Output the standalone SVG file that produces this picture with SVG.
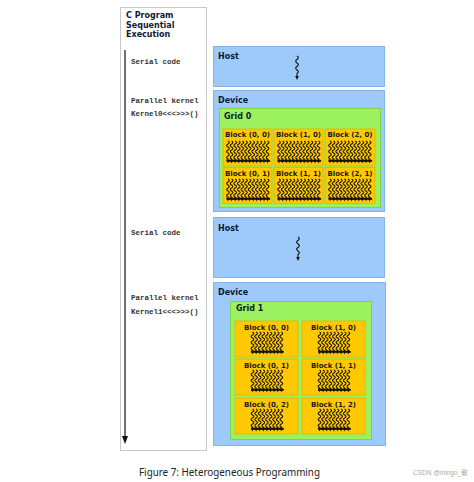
<svg xmlns="http://www.w3.org/2000/svg" xmlns:xlink="http://www.w3.org/1999/xlink" width="474" height="482" viewBox="0 0 474 482">
<style>
.panel{fill:#ffffff;stroke:#c8c8c8;stroke-width:1}
.blue{fill:#9dc9fb;stroke:#86b3e6;stroke-width:1}
.green{fill:#9cf25e;stroke:#7fd24a;stroke-width:1}
.blk{fill:#ffc800;stroke:#e6b000;stroke-width:0.8}
.t{font-family:"DejaVu Sans","Liberation Sans",sans-serif;font-weight:bold;fill:#111a33}
.hd{font-size:8px}
.bl{font-size:7px;text-anchor:middle;fill:#1a1a1a}
.mono{font-family:"Liberation Mono","DejaVu Sans Mono",monospace;font-size:7.5px;font-weight:bold;fill:#333}
.thr{fill:none;stroke:#111;stroke-width:1.1}
.cap{font-family:"Noto Sans","Liberation Sans",sans-serif;font-size:10.5px;fill:#222}
.wm{font-family:"Liberation Sans","Noto Sans CJK SC",sans-serif;font-size:6.5px;fill:#aaa}
</style>
<defs>
<marker id="ah" markerWidth="8" markerHeight="8" refX="4" refY="4" orient="auto" markerUnits="userSpaceOnUse">
<path d="M0,1 L8,4 L0,7 Z" fill="#111"/>
</marker>
<g id="th">
<path class="thr" d="M0,0 c1.8,1 1.8,2 0,3 c-1.8,1 -1.8,2 0,3 c1.8,1 1.8,2 0,3 c-1.8,1 -1.8,2 0,3 c1.8,1 1.8,2 0,3 c-1.8,1 -1.8,2 0,3 L0,19"/>
<path d="M-1.7,18.5 L1.7,18.5 L0,22.5 Z" fill="#111"/>
</g>
<g id="row12">
<use xlink:href="#th" x="0"/><use xlink:href="#th" x="3.6"/><use xlink:href="#th" x="7.2"/><use xlink:href="#th" x="10.8"/><use xlink:href="#th" x="14.4"/><use xlink:href="#th" x="18"/><use xlink:href="#th" x="21.6"/><use xlink:href="#th" x="25.2"/><use xlink:href="#th" x="28.8"/><use xlink:href="#th" x="32.4"/><use xlink:href="#th" x="36"/><use xlink:href="#th" x="39.6"/>
<rect x="-1.5" y="19" width="43.6" height="1.8" fill="#111"/>
</g>
<g id="row9">
<use xlink:href="#th" x="0"/><use xlink:href="#th" x="3.6"/><use xlink:href="#th" x="7.2"/><use xlink:href="#th" x="10.8"/><use xlink:href="#th" x="14.4"/><use xlink:href="#th" x="18"/><use xlink:href="#th" x="21.6"/><use xlink:href="#th" x="25.2"/><use xlink:href="#th" x="28.8"/>
<rect x="-1.5" y="19" width="32.8" height="1.8" fill="#111"/>
</g>
</defs>

<g id="program-panel">
<rect class="panel" x="120.5" y="7.5" width="86" height="443"/>
<text class="t hd" x="126" y="18">C Program</text>
<text class="t hd" x="126" y="27.5">Sequential</text>
<text class="t hd" x="126" y="37">Execution</text>
<text class="mono" x="131" y="64">Serial code</text>
<text class="mono" x="131" y="103">Parallel kernel</text>
<text class="mono" x="131" y="116">Kernel0&lt;&lt;&lt;&gt;&gt;&gt;()</text>
<text class="mono" x="131" y="235">Serial code</text>
<text class="mono" x="131" y="300">Parallel kernel</text>
<text class="mono" x="131" y="314">Kernel1&lt;&lt;&lt;&gt;&gt;&gt;()</text>
</g>

<g id="connectors">
<line x1="125" y1="50" x2="125" y2="440" stroke="#111" stroke-width="1.2" marker-end="url(#ah)"/>
</g>

<g id="host1">
<rect class="blue" x="213.5" y="46.5" width="171" height="40"/>
<text class="t hd" x="218" y="59">Host</text>
<path class="thr" d="M297,56 c1.8,1.2 1.8,2.3 0,3.5 c-1.8,1.2 -1.8,2.3 0,3.5 c1.8,1.2 1.8,2.3 0,3.5 c-1.8,1.2 -1.8,2.3 0,3.5 c1.8,1.2 1.8,2.3 0,3.5 L297,76"/>
<path d="M295.2,76 L298.8,76 L297,80 Z" fill="#111"/>
</g>

<g id="device1">
<rect class="blue" x="213.5" y="90.5" width="171" height="121"/>
<text class="t hd" x="218" y="103">Device</text>
</g>

<g id="grid0">
<rect class="green" x="219.5" y="108.5" width="161" height="99"/>
<text class="t hd" x="224" y="119" fill="#1a2a10">Grid 0</text>
</g>

<g id="g0-b00"><rect class="blk" x="223" y="129" width="49" height="37"/><text class="t bl" x="247.5" y="137">Block (0, 0)</text><use xlink:href="#row12" x="228" y="141"/></g>
<g id="g0-b10"><rect class="blk" x="274" y="129" width="49" height="37"/><text class="t bl" x="298.5" y="137">Block (1, 0)</text><use xlink:href="#row12" x="279" y="141"/></g>
<g id="g0-b20"><rect class="blk" x="325" y="129" width="50" height="37"/><text class="t bl" x="350" y="137">Block (2, 0)</text><use xlink:href="#row12" x="330" y="141"/></g>
<g id="g0-b01"><rect class="blk" x="223" y="167.5" width="49" height="36"/><text class="t bl" x="247.5" y="175.5">Block (0, 1)</text><use xlink:href="#row12" x="228" y="179"/></g>
<g id="g0-b11"><rect class="blk" x="274" y="167.5" width="49" height="36"/><text class="t bl" x="298.5" y="175.5">Block (1, 1)</text><use xlink:href="#row12" x="279" y="179"/></g>
<g id="g0-b21"><rect class="blk" x="325" y="167.5" width="50" height="36"/><text class="t bl" x="350" y="175.5">Block (2, 1)</text><use xlink:href="#row12" x="330" y="179"/></g>

<g id="host2">
<rect class="blue" x="213.5" y="217.5" width="171" height="60"/>
<text class="t hd" x="218" y="231">Host</text>
<path class="thr" d="M298,237 c1.8,1.2 1.8,2.3 0,3.5 c-1.8,1.2 -1.8,2.3 0,3.5 c1.8,1.2 1.8,2.3 0,3.5 c-1.8,1.2 -1.8,2.3 0,3.5 c1.8,1.2 1.8,2.3 0,3.5 L298,257"/>
<path d="M296.2,257 L299.8,257 L298,261 Z" fill="#111"/>
</g>

<g id="device2">
<rect class="blue" x="213.5" y="282.5" width="172" height="163"/>
<text class="t hd" x="218" y="295">Device</text>
</g>

<g id="grid1">
<rect class="green" x="230.5" y="301.5" width="141" height="138"/>
<text class="t hd" x="236" y="311" fill="#1a2a10">Grid 1</text>
</g>

<g id="g1-b00"><rect class="blk" x="235" y="321" width="63" height="36"/><text class="t bl" x="266.5" y="329.5">Block (0, 0)</text><use xlink:href="#row9" x="252.5" y="332"/></g>
<g id="g1-b10"><rect class="blk" x="302" y="321" width="63" height="36"/><text class="t bl" x="333.5" y="329.5">Block (1, 0)</text><use xlink:href="#row9" x="319.5" y="332"/></g>
<g id="g1-b01"><rect class="blk" x="235" y="359" width="63" height="36"/><text class="t bl" x="266.5" y="367.5">Block (0, 1)</text><use xlink:href="#row9" x="252.5" y="370"/></g>
<g id="g1-b11"><rect class="blk" x="302" y="359" width="63" height="36"/><text class="t bl" x="333.5" y="367.5">Block (1, 1)</text><use xlink:href="#row9" x="319.5" y="370"/></g>
<g id="g1-b02"><rect class="blk" x="235" y="398" width="63" height="36"/><text class="t bl" x="266.5" y="406.5">Block (0, 2)</text><use xlink:href="#row9" x="252.5" y="409"/></g>
<g id="g1-b12"><rect class="blk" x="302" y="398" width="63" height="36"/><text class="t bl" x="333.5" y="406.5">Block (1, 2)</text><use xlink:href="#row9" x="319.5" y="409"/></g>

<text class="cap" x="139" y="476" textLength="181" lengthAdjust="spacingAndGlyphs">Figure 7: Heterogeneous Programming</text>
<text class="wm" x="413" y="475">CSDN @mingo_敏</text>
</svg>
